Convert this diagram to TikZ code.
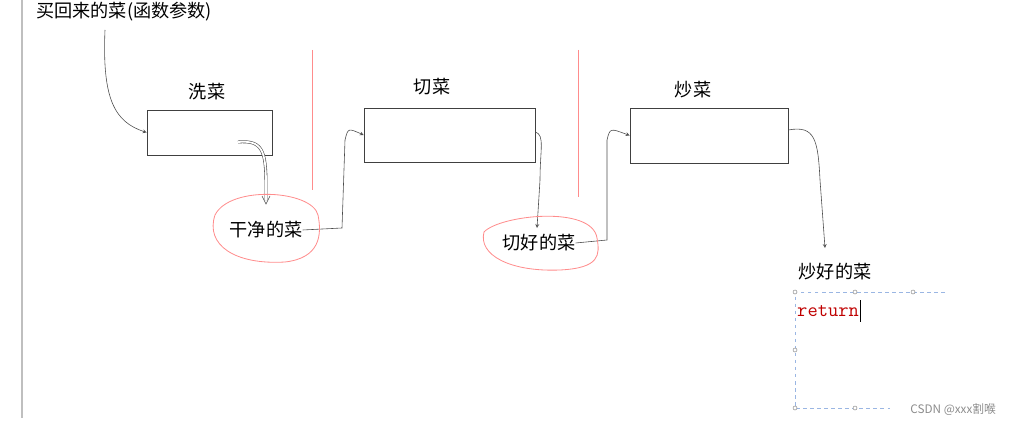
\documentclass[tikz,border=0pt]{standalone}
\usepackage{fontspec}
\setmainfont{Noto Sans CJK SC}
\newfontfamily\cjk{Noto Sans CJK SC}
\begin{document}
\begin{tikzpicture}[x=0.03cm,y=-0.03cm,
  box/.style={draw=black!75,line width=0.6pt},
  lbl/.style={font=\cjk\fontsize{15.5}{18}\selectfont,inner sep=0pt},
  arr/.style={draw=black!70,line width=0.5pt,->,>=stealth},
  redl/.style={draw=red!45,line width=0.7pt}]
\useasboundingbox (0,0) rectangle (1012,426);
\draw[black!25,line width=1pt] (22,0) -- (22,418);
\node[lbl,anchor=west] (t0) at (36,12) {买回来的菜(函数参数)};
\node[lbl] (l1) at (207,92) {洗菜};
\node[lbl] (l2) at (432,87) {切菜};
\node[lbl] (l3) at (693,90) {炒菜};
\node[box,minimum width=125*0.03cm,minimum height=45*0.03cm] (b1) at (209.5,132.5) {};
\node[box,minimum width=171*0.03cm,minimum height=54*0.03cm] (b2) at (449.5,135) {};
\node[box,minimum width=158*0.03cm,minimum height=55*0.03cm] (b3) at (709,135.5) {};
\node[lbl] (c1) at (266,230) {干净的菜};
\node[lbl] (c2) at (539,243) {切好的菜};
\node[lbl] (c3) at (835,272) {炒好的菜};
\coordinate (s0) at (105,30);
\draw[arr] (s0) .. controls (102,100) and (115,122) .. (b1.west);
\coordinate (s1) at (238,142);
\draw[arr,double,double distance=1.5pt,-] (s1) .. controls (262,140) and (266,150) .. (266,185) -- (266,200);
\draw[black!70] (262,196) -- (266,204) -- (270,196);
\draw[arr] (c1.east) -- (342,228) -- (345,140) .. controls (348,128) .. (b2.west);
\draw[arr] (b2.east|-0,132) .. controls (545,135) and (540,150) .. (540,180) -- (537,228);
\draw[arr] (c2.east) -- (607,240) -- (607,140) .. controls (610,128) .. (b3.west);
\draw[arr] (b3.east|-0,130) .. controls (815,125) and (818,140) .. (820,180) -- (825,248);
\draw[redl] (312,50) -- (312,190);
\draw[redl] (578,50) -- (578,197);
\draw[redl] (318,215) .. controls (312,190) and (230,185) .. (215,215) .. controls (205,245) and (235,265) .. (285,262) .. controls (320,258) and (322,235) .. (318,215);
\draw[redl] (597,238) .. controls (592,205) and (500,215) .. (484,232) .. controls (478,255) and (510,272) .. (560,270) .. controls (600,268) and (600,255) .. (597,238);
\draw[cyan!50!blue!40,dashed,line width=0.6pt] (945,292) -- (795,292) -- (795,408) -- (890,408);
\foreach \p in {(795,292),(855,292),(913,292),(795,350),(795,408),(855,408)}
  \draw[black!50,fill=white] \p circle (2);
\node[anchor=west,inner sep=0pt,text=red!75!black,font=\ttfamily\fontsize{17}{19}\selectfont] (rt) at (797,311) {return};
\draw[black] (rt.east) ++(1,-11) -- ++(0,22);
\node[anchor=east,inner sep=0pt,text=black!45,font=\cjk\fontsize{10}{12}\selectfont] (wm) at (996,410) {CSDN @xxx割喉};
\end{tikzpicture}
\end{document}
